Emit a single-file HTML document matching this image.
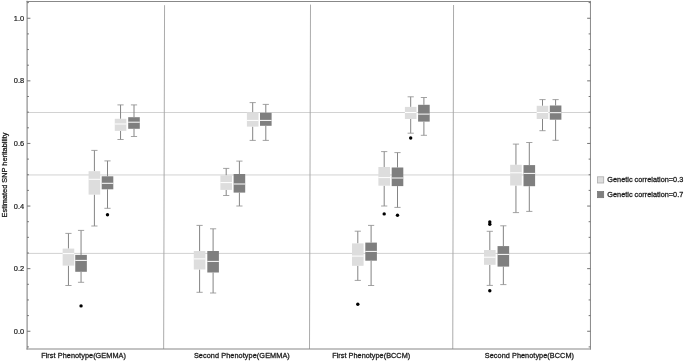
<!DOCTYPE html>
<html lang="en">
<head>
<meta charset="utf-8">
<title>Estimated SNP heritability box plots</title>
<style>
html,body{margin:0;padding:0;background:#ffffff;}
body{width:685px;height:361px;overflow:hidden;font-family:"Liberation Sans",sans-serif;}
svg text{font-family:"Liberation Sans",sans-serif;}
</style>
</head>
<body>
<svg width="685" height="361" viewBox="0 0 685 361" style="display:block">
<rect x="0" y="0" width="685" height="361" fill="#ffffff"/>
<g stroke="#cacaca" stroke-width="0.85" fill="none">
<line x1="27.1" y1="112.50" x2="590.45" y2="112.50"/>
<line x1="27.1" y1="174.95" x2="590.45" y2="174.95"/>
<line x1="27.1" y1="253.40" x2="590.45" y2="253.40"/>
</g>
<g stroke="#a6a6a6" stroke-width="0.95" fill="none">
<line x1="164.55" y1="5.2" x2="163.65" y2="349.0"/>
<line x1="310.5" y1="4.6" x2="309.5" y2="349.0"/>
<line x1="453.55" y1="5.0" x2="452.75" y2="349.0"/>
</g>
<g stroke="#848484" stroke-width="1" fill="none">
<line x1="68.45" y1="233.4" x2="68.45" y2="248.6"/>
<line x1="68.45" y1="265.6" x2="68.45" y2="285.5"/>
<line x1="65.35" y1="233.4" x2="71.55" y2="233.4" stroke-width="0.85" stroke="#929292"/>
<line x1="65.35" y1="285.5" x2="71.55" y2="285.5" stroke-width="0.85" stroke="#929292"/>
</g>
<rect x="62.65" y="248.6" width="11.6" height="17.00" fill="#dddddd"/>
<line x1="62.65" y1="253.6" x2="74.25" y2="253.6" stroke="#ffffff" stroke-width="1"/>
<g stroke="#848484" stroke-width="1" fill="none">
<line x1="81.05" y1="230.4" x2="81.05" y2="254.9"/>
<line x1="81.05" y1="271.8" x2="81.05" y2="282.3"/>
<line x1="77.95" y1="230.4" x2="84.15" y2="230.4" stroke-width="0.85" stroke="#929292"/>
<line x1="77.95" y1="282.3" x2="84.15" y2="282.3" stroke-width="0.85" stroke="#929292"/>
</g>
<rect x="75.25" y="254.9" width="11.6" height="16.90" fill="#7f7f7f"/>
<line x1="75.25" y1="260.4" x2="86.85" y2="260.4" stroke="#ffffff" stroke-width="1"/>
<circle cx="81.05" cy="305.9" r="1.7" fill="#000000"/>
<g stroke="#848484" stroke-width="1" fill="none">
<line x1="94.4" y1="150.4" x2="94.4" y2="171.2"/>
<line x1="94.4" y1="194.6" x2="94.4" y2="226.0"/>
<line x1="91.30" y1="150.4" x2="97.50" y2="150.4" stroke-width="0.85" stroke="#929292"/>
<line x1="91.30" y1="226.0" x2="97.50" y2="226.0" stroke-width="0.85" stroke="#929292"/>
</g>
<rect x="88.60" y="171.2" width="11.6" height="23.40" fill="#dddddd"/>
<line x1="88.60" y1="179.3" x2="100.20" y2="179.3" stroke="#ffffff" stroke-width="1"/>
<g stroke="#848484" stroke-width="1" fill="none">
<line x1="107.5" y1="160.9" x2="107.5" y2="176.3"/>
<line x1="107.5" y1="189.3" x2="107.5" y2="208.3"/>
<line x1="104.40" y1="160.9" x2="110.60" y2="160.9" stroke-width="0.85" stroke="#929292"/>
<line x1="104.40" y1="208.3" x2="110.60" y2="208.3" stroke-width="0.85" stroke="#929292"/>
</g>
<rect x="101.70" y="176.3" width="11.6" height="13.00" fill="#7f7f7f"/>
<line x1="101.70" y1="183.3" x2="113.30" y2="183.3" stroke="#ffffff" stroke-width="1"/>
<circle cx="107.5" cy="214.7" r="1.7" fill="#000000"/>
<g stroke="#848484" stroke-width="1" fill="none">
<line x1="120.55" y1="104.9" x2="120.55" y2="118.8"/>
<line x1="120.55" y1="130.9" x2="120.55" y2="139.5"/>
<line x1="117.45" y1="104.9" x2="123.65" y2="104.9" stroke-width="0.85" stroke="#929292"/>
<line x1="117.45" y1="139.5" x2="123.65" y2="139.5" stroke-width="0.85" stroke="#929292"/>
</g>
<rect x="114.75" y="118.8" width="11.6" height="12.10" fill="#dddddd"/>
<line x1="114.75" y1="124.0" x2="126.35" y2="124.0" stroke="#ffffff" stroke-width="1"/>
<g stroke="#848484" stroke-width="1" fill="none">
<line x1="134.0" y1="104.9" x2="134.0" y2="117.2"/>
<line x1="134.0" y1="128.8" x2="134.0" y2="136.5"/>
<line x1="130.90" y1="104.9" x2="137.10" y2="104.9" stroke-width="0.85" stroke="#929292"/>
<line x1="130.90" y1="136.5" x2="137.10" y2="136.5" stroke-width="0.85" stroke="#929292"/>
</g>
<rect x="128.20" y="117.2" width="11.6" height="11.60" fill="#7f7f7f"/>
<line x1="128.20" y1="122.2" x2="139.80" y2="122.2" stroke="#ffffff" stroke-width="1"/>
<g stroke="#848484" stroke-width="1" fill="none">
<line x1="199.6" y1="225.4" x2="199.6" y2="251.0"/>
<line x1="199.6" y1="269.5" x2="199.6" y2="292.3"/>
<line x1="196.50" y1="225.4" x2="202.70" y2="225.4" stroke-width="0.85" stroke="#929292"/>
<line x1="196.50" y1="292.3" x2="202.70" y2="292.3" stroke-width="0.85" stroke="#929292"/>
</g>
<rect x="193.80" y="251.0" width="11.6" height="18.50" fill="#dddddd"/>
<line x1="193.80" y1="258.9" x2="205.40" y2="258.9" stroke="#ffffff" stroke-width="1"/>
<g stroke="#848484" stroke-width="1" fill="none">
<line x1="213.1" y1="228.8" x2="213.1" y2="251.0"/>
<line x1="213.1" y1="272.5" x2="213.1" y2="293.0"/>
<line x1="210.00" y1="228.8" x2="216.20" y2="228.8" stroke-width="0.85" stroke="#929292"/>
<line x1="210.00" y1="293.0" x2="216.20" y2="293.0" stroke-width="0.85" stroke="#929292"/>
</g>
<rect x="207.30" y="251.0" width="11.6" height="21.50" fill="#7f7f7f"/>
<line x1="207.30" y1="261.4" x2="218.90" y2="261.4" stroke="#ffffff" stroke-width="1"/>
<g stroke="#848484" stroke-width="1" fill="none">
<line x1="226.2" y1="168.4" x2="226.2" y2="175.4"/>
<line x1="226.2" y1="189.9" x2="226.2" y2="195.5"/>
<line x1="223.10" y1="168.4" x2="229.30" y2="168.4" stroke-width="0.85" stroke="#929292"/>
<line x1="223.10" y1="195.5" x2="229.30" y2="195.5" stroke-width="0.85" stroke="#929292"/>
</g>
<rect x="220.40" y="175.4" width="11.6" height="14.50" fill="#dddddd"/>
<line x1="220.40" y1="182.6" x2="232.00" y2="182.6" stroke="#ffffff" stroke-width="1"/>
<g stroke="#848484" stroke-width="1" fill="none">
<line x1="239.4" y1="161.1" x2="239.4" y2="174.0"/>
<line x1="239.4" y1="192.6" x2="239.4" y2="206.0"/>
<line x1="236.30" y1="161.1" x2="242.50" y2="161.1" stroke-width="0.85" stroke="#929292"/>
<line x1="236.30" y1="206.0" x2="242.50" y2="206.0" stroke-width="0.85" stroke="#929292"/>
</g>
<rect x="233.60" y="174.0" width="11.6" height="18.60" fill="#7f7f7f"/>
<line x1="233.60" y1="184.0" x2="245.20" y2="184.0" stroke="#ffffff" stroke-width="1"/>
<g stroke="#848484" stroke-width="1" fill="none">
<line x1="252.7" y1="102.6" x2="252.7" y2="112.3"/>
<line x1="252.7" y1="126.6" x2="252.7" y2="140.4"/>
<line x1="249.60" y1="102.6" x2="255.80" y2="102.6" stroke-width="0.85" stroke="#929292"/>
<line x1="249.60" y1="140.4" x2="255.80" y2="140.4" stroke-width="0.85" stroke="#929292"/>
</g>
<rect x="246.90" y="112.3" width="11.6" height="14.30" fill="#dddddd"/>
<line x1="246.90" y1="120.4" x2="258.50" y2="120.4" stroke="#ffffff" stroke-width="1"/>
<g stroke="#848484" stroke-width="1" fill="none">
<line x1="265.8" y1="104.4" x2="265.8" y2="112.8"/>
<line x1="265.8" y1="125.8" x2="265.8" y2="140.4"/>
<line x1="262.70" y1="104.4" x2="268.90" y2="104.4" stroke-width="0.85" stroke="#929292"/>
<line x1="262.70" y1="140.4" x2="268.90" y2="140.4" stroke-width="0.85" stroke="#929292"/>
</g>
<rect x="260.00" y="112.8" width="11.6" height="13.00" fill="#7f7f7f"/>
<line x1="260.00" y1="120.4" x2="271.60" y2="120.4" stroke="#ffffff" stroke-width="1"/>
<g stroke="#848484" stroke-width="1" fill="none">
<line x1="357.8" y1="231.2" x2="357.8" y2="243.4"/>
<line x1="357.8" y1="265.8" x2="357.8" y2="280.4"/>
<line x1="354.70" y1="231.2" x2="360.90" y2="231.2" stroke-width="0.85" stroke="#929292"/>
<line x1="354.70" y1="280.4" x2="360.90" y2="280.4" stroke-width="0.85" stroke="#929292"/>
</g>
<rect x="352.00" y="243.4" width="11.6" height="22.40" fill="#dddddd"/>
<line x1="352.00" y1="256.1" x2="363.60" y2="256.1" stroke="#ffffff" stroke-width="1"/>
<circle cx="357.8" cy="304.3" r="1.7" fill="#000000"/>
<g stroke="#848484" stroke-width="1" fill="none">
<line x1="371.1" y1="225.4" x2="371.1" y2="242.6"/>
<line x1="371.1" y1="260.7" x2="371.1" y2="285.5"/>
<line x1="368.00" y1="225.4" x2="374.20" y2="225.4" stroke-width="0.85" stroke="#929292"/>
<line x1="368.00" y1="285.5" x2="374.20" y2="285.5" stroke-width="0.85" stroke="#929292"/>
</g>
<rect x="365.30" y="242.6" width="11.6" height="18.10" fill="#7f7f7f"/>
<line x1="365.30" y1="251.4" x2="376.90" y2="251.4" stroke="#ffffff" stroke-width="1"/>
<g stroke="#848484" stroke-width="1" fill="none">
<line x1="384.2" y1="151.6" x2="384.2" y2="167.0"/>
<line x1="384.2" y1="185.7" x2="384.2" y2="206.0"/>
<line x1="381.10" y1="151.6" x2="387.30" y2="151.6" stroke-width="0.85" stroke="#929292"/>
<line x1="381.10" y1="206.0" x2="387.30" y2="206.0" stroke-width="0.85" stroke="#929292"/>
</g>
<rect x="378.40" y="167.0" width="11.6" height="18.70" fill="#dddddd"/>
<line x1="378.40" y1="177.6" x2="390.00" y2="177.6" stroke="#ffffff" stroke-width="1"/>
<circle cx="384.2" cy="213.9" r="1.7" fill="#000000"/>
<g stroke="#848484" stroke-width="1" fill="none">
<line x1="397.5" y1="152.6" x2="397.5" y2="167.5"/>
<line x1="397.5" y1="186.1" x2="397.5" y2="207.4"/>
<line x1="394.40" y1="152.6" x2="400.60" y2="152.6" stroke-width="0.85" stroke="#929292"/>
<line x1="394.40" y1="207.4" x2="400.60" y2="207.4" stroke-width="0.85" stroke="#929292"/>
</g>
<rect x="391.70" y="167.5" width="11.6" height="18.60" fill="#7f7f7f"/>
<line x1="391.70" y1="178.0" x2="403.30" y2="178.0" stroke="#ffffff" stroke-width="1"/>
<circle cx="397.5" cy="215.3" r="1.7" fill="#000000"/>
<g stroke="#848484" stroke-width="1" fill="none">
<line x1="410.7" y1="96.8" x2="410.7" y2="106.9"/>
<line x1="410.7" y1="119.0" x2="410.7" y2="133.2"/>
<line x1="407.60" y1="96.8" x2="413.80" y2="96.8" stroke-width="0.85" stroke="#929292"/>
<line x1="407.60" y1="133.2" x2="413.80" y2="133.2" stroke-width="0.85" stroke="#929292"/>
</g>
<rect x="404.90" y="106.9" width="11.6" height="12.10" fill="#dddddd"/>
<line x1="404.90" y1="112.5" x2="416.50" y2="112.5" stroke="#ffffff" stroke-width="1"/>
<circle cx="410.7" cy="138.0" r="1.7" fill="#000000"/>
<g stroke="#848484" stroke-width="1" fill="none">
<line x1="423.9" y1="97.5" x2="423.9" y2="104.8"/>
<line x1="423.9" y1="121.6" x2="423.9" y2="135.3"/>
<line x1="420.80" y1="97.5" x2="427.00" y2="97.5" stroke-width="0.85" stroke="#929292"/>
<line x1="420.80" y1="135.3" x2="427.00" y2="135.3" stroke-width="0.85" stroke="#929292"/>
</g>
<rect x="418.10" y="104.8" width="11.6" height="16.80" fill="#7f7f7f"/>
<line x1="418.10" y1="114.1" x2="429.70" y2="114.1" stroke="#ffffff" stroke-width="1"/>
<g stroke="#848484" stroke-width="1" fill="none">
<line x1="489.8" y1="231.3" x2="489.8" y2="250.0"/>
<line x1="489.8" y1="264.8" x2="489.8" y2="285.4"/>
<line x1="486.70" y1="231.3" x2="492.90" y2="231.3" stroke-width="0.85" stroke="#929292"/>
<line x1="486.70" y1="285.4" x2="492.90" y2="285.4" stroke-width="0.85" stroke="#929292"/>
</g>
<rect x="484.00" y="250.0" width="11.6" height="14.80" fill="#dddddd"/>
<line x1="484.00" y1="257.2" x2="495.60" y2="257.2" stroke="#ffffff" stroke-width="1"/>
<circle cx="489.8" cy="222.0" r="1.7" fill="#000000"/>
<circle cx="489.8" cy="224.3" r="1.7" fill="#000000"/>
<circle cx="489.8" cy="290.7" r="1.7" fill="#000000"/>
<g stroke="#848484" stroke-width="1" fill="none">
<line x1="503.35" y1="225.8" x2="503.35" y2="246.1"/>
<line x1="503.35" y1="266.6" x2="503.35" y2="284.6"/>
<line x1="500.25" y1="225.8" x2="506.45" y2="225.8" stroke-width="0.85" stroke="#929292"/>
<line x1="500.25" y1="284.6" x2="506.45" y2="284.6" stroke-width="0.85" stroke="#929292"/>
</g>
<rect x="497.55" y="246.1" width="11.6" height="20.50" fill="#7f7f7f"/>
<line x1="497.55" y1="254.4" x2="509.15" y2="254.4" stroke="#ffffff" stroke-width="1"/>
<g stroke="#848484" stroke-width="1" fill="none">
<line x1="515.95" y1="144.1" x2="515.95" y2="164.8"/>
<line x1="515.95" y1="185.5" x2="515.95" y2="212.6"/>
<line x1="512.85" y1="144.1" x2="519.05" y2="144.1" stroke-width="0.85" stroke="#929292"/>
<line x1="512.85" y1="212.6" x2="519.05" y2="212.6" stroke-width="0.85" stroke="#929292"/>
</g>
<rect x="510.15" y="164.8" width="11.6" height="20.70" fill="#dddddd"/>
<line x1="510.15" y1="172.8" x2="521.75" y2="172.8" stroke="#ffffff" stroke-width="1"/>
<g stroke="#848484" stroke-width="1" fill="none">
<line x1="529.3" y1="142.5" x2="529.3" y2="165.1"/>
<line x1="529.3" y1="186.2" x2="529.3" y2="211.4"/>
<line x1="526.20" y1="142.5" x2="532.40" y2="142.5" stroke-width="0.85" stroke="#929292"/>
<line x1="526.20" y1="211.4" x2="532.40" y2="211.4" stroke-width="0.85" stroke="#929292"/>
</g>
<rect x="523.50" y="165.1" width="11.6" height="21.10" fill="#7f7f7f"/>
<line x1="523.50" y1="173.4" x2="535.10" y2="173.4" stroke="#ffffff" stroke-width="1"/>
<g stroke="#848484" stroke-width="1" fill="none">
<line x1="542.5" y1="99.6" x2="542.5" y2="105.8"/>
<line x1="542.5" y1="119.0" x2="542.5" y2="130.7"/>
<line x1="539.40" y1="99.6" x2="545.60" y2="99.6" stroke-width="0.85" stroke="#929292"/>
<line x1="539.40" y1="130.7" x2="545.60" y2="130.7" stroke-width="0.85" stroke="#929292"/>
</g>
<rect x="536.70" y="105.8" width="11.6" height="13.20" fill="#dddddd"/>
<line x1="536.70" y1="112.5" x2="548.30" y2="112.5" stroke="#ffffff" stroke-width="1"/>
<g stroke="#848484" stroke-width="1" fill="none">
<line x1="555.6" y1="99.6" x2="555.6" y2="105.5"/>
<line x1="555.6" y1="119.7" x2="555.6" y2="140.3"/>
<line x1="552.50" y1="99.6" x2="558.70" y2="99.6" stroke-width="0.85" stroke="#929292"/>
<line x1="552.50" y1="140.3" x2="558.70" y2="140.3" stroke-width="0.85" stroke="#929292"/>
</g>
<rect x="549.80" y="105.5" width="11.6" height="14.20" fill="#7f7f7f"/>
<line x1="549.80" y1="112.7" x2="561.40" y2="112.7" stroke="#ffffff" stroke-width="1"/>
<g stroke="#888888" fill="none" stroke-linecap="square">
<line x1="27.1" y1="1.4" x2="27.1" y2="349.0" stroke-width="1.15"/>
<line x1="27.1" y1="1.4" x2="590.45" y2="1.4" stroke-width="1.05"/>
<line x1="590.45" y1="1.4" x2="590.45" y2="349.0" stroke-width="1.0"/>
<line x1="27.1" y1="349.0" x2="590.45" y2="349.0" stroke-width="1.2"/>
</g>
<g stroke="#6c6c6c" stroke-width="0.95" fill="none">
<line x1="27.1" y1="346.90" x2="28.900000000000002" y2="346.90"/>
<line x1="590.45" y1="346.90" x2="588.6500000000001" y2="346.90"/>
<line x1="27.1" y1="331.25" x2="30.400000000000002" y2="331.25"/>
<line x1="590.45" y1="331.25" x2="587.1500000000001" y2="331.25"/>
<line x1="27.1" y1="315.60" x2="28.900000000000002" y2="315.60"/>
<line x1="590.45" y1="315.60" x2="588.6500000000001" y2="315.60"/>
<line x1="27.1" y1="299.95" x2="28.900000000000002" y2="299.95"/>
<line x1="590.45" y1="299.95" x2="588.6500000000001" y2="299.95"/>
<line x1="27.1" y1="284.30" x2="28.900000000000002" y2="284.30"/>
<line x1="590.45" y1="284.30" x2="588.6500000000001" y2="284.30"/>
<line x1="27.1" y1="268.65" x2="30.400000000000002" y2="268.65"/>
<line x1="590.45" y1="268.65" x2="587.1500000000001" y2="268.65"/>
<line x1="27.1" y1="253.00" x2="28.900000000000002" y2="253.00"/>
<line x1="590.45" y1="253.00" x2="588.6500000000001" y2="253.00"/>
<line x1="27.1" y1="237.35" x2="28.900000000000002" y2="237.35"/>
<line x1="590.45" y1="237.35" x2="588.6500000000001" y2="237.35"/>
<line x1="27.1" y1="221.70" x2="28.900000000000002" y2="221.70"/>
<line x1="590.45" y1="221.70" x2="588.6500000000001" y2="221.70"/>
<line x1="27.1" y1="206.05" x2="30.400000000000002" y2="206.05"/>
<line x1="590.45" y1="206.05" x2="587.1500000000001" y2="206.05"/>
<line x1="27.1" y1="190.40" x2="28.900000000000002" y2="190.40"/>
<line x1="590.45" y1="190.40" x2="588.6500000000001" y2="190.40"/>
<line x1="27.1" y1="174.75" x2="28.900000000000002" y2="174.75"/>
<line x1="590.45" y1="174.75" x2="588.6500000000001" y2="174.75"/>
<line x1="27.1" y1="159.10" x2="28.900000000000002" y2="159.10"/>
<line x1="590.45" y1="159.10" x2="588.6500000000001" y2="159.10"/>
<line x1="27.1" y1="143.45" x2="30.400000000000002" y2="143.45"/>
<line x1="590.45" y1="143.45" x2="587.1500000000001" y2="143.45"/>
<line x1="27.1" y1="127.80" x2="28.900000000000002" y2="127.80"/>
<line x1="590.45" y1="127.80" x2="588.6500000000001" y2="127.80"/>
<line x1="27.1" y1="112.15" x2="28.900000000000002" y2="112.15"/>
<line x1="590.45" y1="112.15" x2="588.6500000000001" y2="112.15"/>
<line x1="27.1" y1="96.50" x2="28.900000000000002" y2="96.50"/>
<line x1="590.45" y1="96.50" x2="588.6500000000001" y2="96.50"/>
<line x1="27.1" y1="80.85" x2="30.400000000000002" y2="80.85"/>
<line x1="590.45" y1="80.85" x2="587.1500000000001" y2="80.85"/>
<line x1="27.1" y1="65.20" x2="28.900000000000002" y2="65.20"/>
<line x1="590.45" y1="65.20" x2="588.6500000000001" y2="65.20"/>
<line x1="27.1" y1="49.55" x2="28.900000000000002" y2="49.55"/>
<line x1="590.45" y1="49.55" x2="588.6500000000001" y2="49.55"/>
<line x1="27.1" y1="33.90" x2="28.900000000000002" y2="33.90"/>
<line x1="590.45" y1="33.90" x2="588.6500000000001" y2="33.90"/>
<line x1="27.1" y1="18.25" x2="30.400000000000002" y2="18.25"/>
<line x1="590.45" y1="18.25" x2="587.1500000000001" y2="18.25"/>
<line x1="27.1" y1="2.60" x2="28.900000000000002" y2="2.60"/>
<line x1="590.45" y1="2.60" x2="588.6500000000001" y2="2.60"/>
</g>
<g font-family="'Liberation Sans', sans-serif" font-size="7.3px" fill="#1a1a1a" stroke="#1a1a1a" stroke-width="0.28" stroke-linejoin="round">
<text x="24.15" y="333.75" text-anchor="end" font-size="7.45px" stroke-width="0.2">0.0</text>
<text x="24.15" y="271.15" text-anchor="end" font-size="7.45px" stroke-width="0.2">0.2</text>
<text x="24.15" y="208.55" text-anchor="end" font-size="7.45px" stroke-width="0.2">0.4</text>
<text x="24.15" y="145.95" text-anchor="end" font-size="7.45px" stroke-width="0.2">0.6</text>
<text x="24.15" y="83.35" text-anchor="end" font-size="7.45px" stroke-width="0.2">0.8</text>
<text x="24.15" y="20.75" text-anchor="end" font-size="7.45px" stroke-width="0.2">1.0</text>
<text x="41.15" y="357.8" textLength="84.8" lengthAdjust="spacing">First Phenotype(GEMMA)</text>
<text x="193.9" y="357.8" textLength="95.9" lengthAdjust="spacing">Second Phenotype(GEMMA)</text>
<text x="332.2" y="357.8" textLength="78.0" lengthAdjust="spacing">First Phenotype(BCCM)</text>
<text x="484.8" y="357.8" textLength="89.2" lengthAdjust="spacing">Second Phenotype(BCCM)</text>
<text transform="translate(7.1 175) rotate(-90)" text-anchor="middle" font-size="7.35px">Estimated SNP heritability</text>
<text x="607.3" y="182.3" textLength="76.0" lengthAdjust="spacing">Genetic correlation=0.3</text>
<text x="607.3" y="197.3" textLength="76.0" lengthAdjust="spacing">Genetic correlation=0.7</text>
</g>
<rect x="597.5" y="176.8" width="6.2" height="6.2" fill="#dddddd" stroke="#adadad" stroke-width="0.8"/>
<rect x="597.5" y="191.5" width="6.2" height="6.2" fill="#7f7f7f" stroke="#707070" stroke-width="0.7"/>
</svg>
</body>
</html>
